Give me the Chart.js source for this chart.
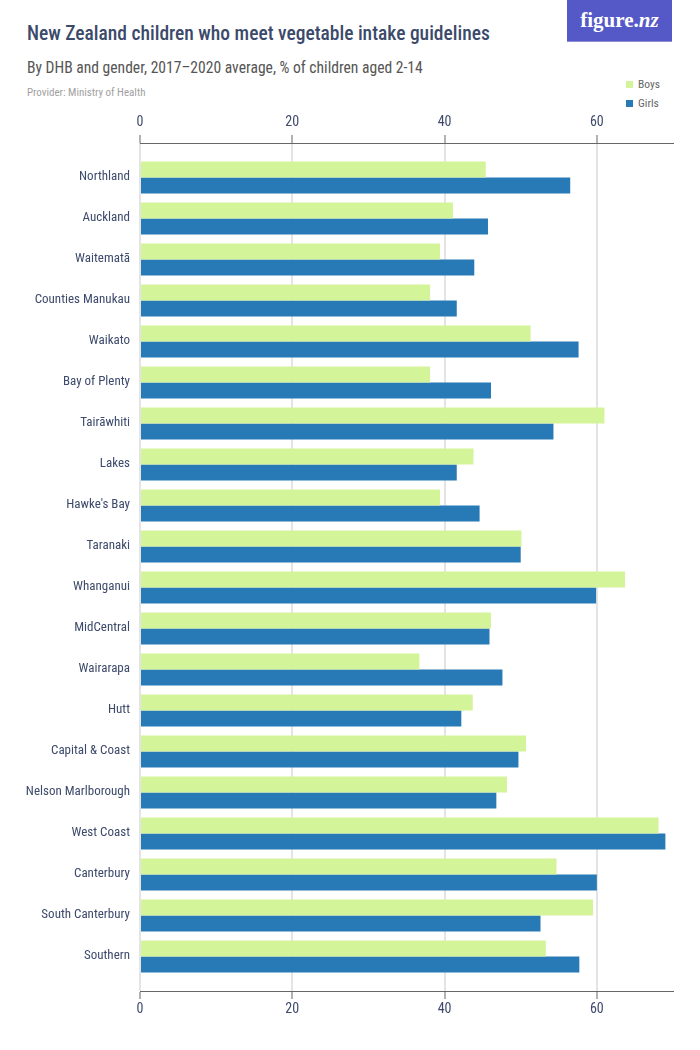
<!DOCTYPE html>
<html>
<head>
<meta charset="utf-8">
<script src="https://cdn.jsdelivr.net/npm/chart.js@4.4.0/dist/chart.umd.min.js"></script>
<style>
  body { margin: 0; background: #fff; font-family: "Roboto Condensed", "DejaVu Sans Condensed", sans-serif; }
  #page { position: relative; width: 700px; height: 1050px; overflow: hidden; }
  #title { position: absolute; left: 27px; top: 22px; font-size: 19.5px; font-weight: 500; color: #3b4a6b; white-space: nowrap; }
  #subtitle { position: absolute; left: 27px; top: 59px; font-size: 15.6px; color: #555; white-space: nowrap; }
  #provider { position: absolute; left: 27px; top: 86px; font-size: 11px; color: #a0a0a0; white-space: nowrap; }
  #logo { position: absolute; left: 567px; top: 0; width: 105px; height: 42px; background: #5559c7; border-bottom: 1px solid #8c8fd8; box-sizing: border-box;
          color: #fff; font-family: "Liberation Serif", "DejaVu Serif", serif; font-weight: bold; font-size: 21px; text-align: center; line-height: 40px; }
  #logo i { font-style: italic; }
  #legend { position: absolute; left: 626px; top: 77px; font-size: 11.5px; color: #666; }
  .item { height: 19px; line-height: 14px; white-space: nowrap; }
  .swatch { display: inline-block; width: 7px; height: 7px; margin-right: 5px; vertical-align: 0px; }
  #wrap { position: absolute; left: 0; top: 100px; width: 700px; height: 945px; }
</style>
</head>
<body>
<div id="page">
  <div id="title">New Zealand children who meet vegetable intake guidelines</div>
  <div id="subtitle">By DHB and gender, 2017–2020 average, % of children aged 2-14</div>
  <div id="provider">Provider: Ministry of Health</div>
  <div id="logo">figure.<i>nz</i></div>
  <div id="legend"></div>
  <div id="wrap"><canvas id="chart"></canvas></div>
</div>
<script>
const categories = ['Northland', 'Auckland', 'Waitematā', 'Counties Manukau', 'Waikato', 'Bay of Plenty',
  'Tairāwhiti', 'Lakes', "Hawke's Bay", 'Taranaki', 'Whanganui', 'MidCentral', 'Wairarapa', 'Hutt',
  'Capital & Coast', 'Nelson Marlborough', 'West Coast', 'Canterbury', 'South Canterbury', 'Southern'];

const boys = [45.4, 41.1, 39.4, 38.1, 51.3, 38.1, 61.0, 43.8, 39.4, 50.1,
  63.7, 46.1, 36.7, 43.7, 50.7, 48.2, 68.1, 54.7, 59.5, 53.3];
const girls = [56.5, 45.7, 43.9, 41.6, 57.6, 46.1, 54.3, 41.6, 44.6, 50.0,
  59.9, 45.9, 47.6, 42.2, 49.7, 46.8, 69.0, 60.0, 52.6, 57.7];

const xTicks = [0, 20, 40, 60];
const xMax = 70;

const seriesNames = ['Boys', 'Girls'];
const seriesColors = ['#d4f499', '#287ab6'];

// legend
const legend = document.getElementById('legend');
seriesNames.forEach((name, i) => {
  legend.innerHTML += `<div class="item"><span class="swatch" style="background:${seriesColors[i]}"></span>${name}</div>`;
});

const fontFamily = '"Roboto Condensed", "DejaVu Sans Condensed", sans-serif';
const tickColor = '#3d4a6b';

function toPoints(values) {
  return values.map((v, i) => ({ x: v, y: i }));
}

// same setup for top and bottom value axis
function xAxis(position, height, pad) {
  return {
    type: 'linear',
    position: position,
    min: 0,
    max: xMax,
    bounds: 'data',
    afterBuildTicks: scale => { scale.ticks = xTicks.map(v => ({ value: v })); },
    afterFit: scale => { scale.height = height; },
    grid: { color: '#e4e4e4', lineWidth: 2, tickColor: '#666', tickWidth: 1, tickLength: 8 },
    border: { display: true, color: '#666', width: 1 },
    ticks: { color: tickColor, font: { family: fontFamily, size: 14 }, padding: pad }
  };
}

new Chart(document.getElementById('chart'), {
  type: 'bar',
  data: {
    datasets: [
      { label: seriesNames[0], data: toPoints(boys), backgroundColor: seriesColors[0], xAxisID: 'x' },
      { label: seriesNames[1], data: toPoints(girls), backgroundColor: seriesColors[1], xAxisID: 'x' }
    ]
  },
  options: {
    indexAxis: 'y',
    responsive: true,
    maintainAspectRatio: false,
    animation: false,
    layout: { padding: { left: 0, right: 27, top: 0, bottom: 0 } },
    datasets: { bar: { categoryPercentage: 0.78, barPercentage: 1.0, borderWidth: 0 } },
    scales: {
      x: xAxis('bottom', 54, 2),
      x2: xAxis('top', 43, 4),
      y: {
        // linear index axis so there is some room above the first and below the last group
        type: 'linear',
        reverse: true,
        offset: false,
        min: -0.84,
        max: categories.length - 1 + 0.84,
        bounds: 'data',
        afterBuildTicks: scale => { scale.ticks = categories.map((c, i) => ({ value: i })); },
        afterFit: scale => { scale.width = 140; },
        grid: { display: false, drawTicks: false },
        border: { display: false },
        ticks: {
          autoSkip: false,
          padding: 10,
          labelOffset: -1,
          color: tickColor,
          font: { family: fontFamily, size: 13 },
          callback: v => categories[v]
        }
      }
    },
    plugins: {
      legend: { display: false },
      tooltip: { enabled: false }
    }
  }
});
</script>
</body>
</html>
